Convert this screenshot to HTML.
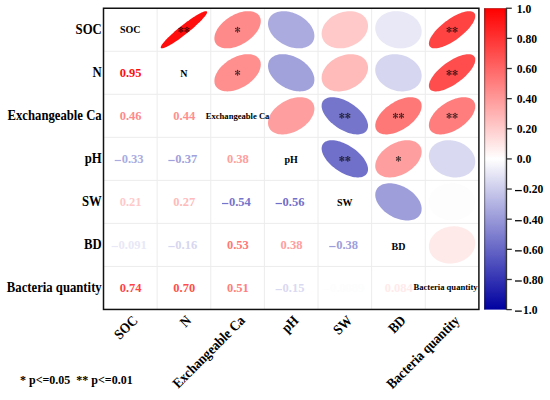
<!DOCTYPE html><html><head><meta charset="utf-8"><style>html,body{margin:0;padding:0;background:#fff;width:550px;height:400px;overflow:hidden}svg{display:block}text{font-family:"Liberation Serif",serif;font-weight:bold}</style></head><body>
<svg width="550" height="400" viewBox="0 0 550 400">
<defs><linearGradient id="cb" x1="0" y1="0" x2="0" y2="1"><stop offset="0" stop-color="#ff0000"/><stop offset="0.5" stop-color="#ffffff"/><stop offset="1" stop-color="rgb(0,0,160)"/></linearGradient></defs>
<g stroke="#ececec" stroke-width="1"><line x1="157.13" y1="8.25" x2="157.13" y2="309.45"/><line x1="103.50" y1="51.28" x2="478.90" y2="51.28"/><line x1="210.76" y1="8.25" x2="210.76" y2="309.45"/><line x1="103.50" y1="94.31" x2="478.90" y2="94.31"/><line x1="264.39" y1="8.25" x2="264.39" y2="309.45"/><line x1="103.50" y1="137.34" x2="478.90" y2="137.34"/><line x1="318.01" y1="8.25" x2="318.01" y2="309.45"/><line x1="103.50" y1="180.36" x2="478.90" y2="180.36"/><line x1="371.64" y1="8.25" x2="371.64" y2="309.45"/><line x1="103.50" y1="223.39" x2="478.90" y2="223.39"/><line x1="425.27" y1="8.25" x2="425.27" y2="309.45"/><line x1="103.50" y1="266.42" x2="478.90" y2="266.42"/></g>
<polygon points="206.85,11.39 206.53,11.23 206.11,11.16 205.58,11.18 204.95,11.29 204.21,11.49 203.37,11.78 202.44,12.16 201.42,12.62 200.32,13.17 199.13,13.80 197.87,14.50 196.54,15.28 195.15,16.13 193.71,17.05 192.22,18.03 190.69,19.06 189.12,20.15 187.53,21.29 185.93,22.46 184.31,23.68 182.69,24.92 181.08,26.18 179.48,27.46 177.90,28.76 176.35,30.06 174.84,31.35 173.38,32.64 171.96,33.92 170.61,35.18 169.32,36.40 168.10,37.60 166.95,38.76 165.89,39.87 164.92,40.94 164.04,41.95 163.26,42.90 162.58,43.79 162.00,44.61 161.53,45.35 161.17,46.03 160.92,46.62 160.78,47.13 160.75,47.55 160.84,47.89 161.04,48.14 161.35,48.30 161.77,48.37 162.30,48.35 162.94,48.24 163.68,48.04 164.51,47.75 165.44,47.37 166.46,46.91 167.57,46.36 168.76,45.73 170.02,45.03 171.34,44.25 172.73,43.40 174.18,42.48 175.67,41.50 177.20,40.46 178.76,39.38 180.35,38.24 181.96,37.06 183.58,35.85 185.20,34.61 186.81,33.35 188.41,32.06 189.98,30.77 191.53,29.47 193.04,28.17 194.51,26.88 195.92,25.61 197.28,24.35 198.57,23.12 199.79,21.93 200.93,20.77 201.99,19.66 202.97,18.59 203.84,17.58 204.63,16.63 205.31,15.74 205.89,14.92 206.36,14.17 206.72,13.50 206.97,12.91 207.11,12.40 207.13,11.98 207.05,11.64" fill="rgb(255,13,13)"/>
<polygon points="257.39,13.86 256.50,13.23 255.52,12.67 254.45,12.20 253.30,11.81 252.07,11.52 250.77,11.31 249.41,11.19 247.99,11.16 246.52,11.22 245.01,11.37 243.45,11.61 241.88,11.94 240.27,12.36 238.66,12.86 237.04,13.44 235.43,14.10 233.82,14.84 232.23,15.65 230.67,16.53 229.14,17.48 227.66,18.49 226.22,19.55 224.84,20.66 223.51,21.81 222.26,23.00 221.08,24.23 219.99,25.48 218.97,26.75 218.05,28.04 217.23,29.34 216.50,30.64 215.87,31.93 215.35,33.22 214.94,34.48 214.64,35.73 214.45,36.94 214.38,38.12 214.42,39.26 214.57,40.36 214.83,41.40 215.20,42.38 215.68,43.31 216.27,44.16 216.96,44.95 217.75,45.66 218.64,46.30 219.62,46.86 220.69,47.33 221.84,47.71 223.07,48.01 224.37,48.22 225.73,48.34 227.15,48.37 228.62,48.31 230.14,48.16 231.69,47.92 233.27,47.59 234.87,47.17 236.48,46.67 238.10,46.09 239.72,45.43 241.32,44.69 242.91,43.87 244.47,42.99 246.00,42.05 247.49,41.04 248.92,39.98 250.31,38.87 251.63,37.72 252.88,36.53 254.06,35.30 255.16,34.05 256.17,32.77 257.09,31.49 257.92,30.19 258.64,28.89 259.27,27.60 259.79,26.31 260.20,25.04 260.50,23.80 260.69,22.58 260.76,21.40 260.73,20.26 260.58,19.17 260.32,18.13 259.94,17.15 259.46,16.22 258.87,15.36 258.18,14.58" fill="rgb(255,138,138)"/>
<polygon points="304.62,18.99 303.27,17.96 301.86,16.99 300.40,16.07 298.89,15.23 297.35,14.45 295.77,13.75 294.17,13.13 292.56,12.59 290.94,12.13 289.33,11.76 287.72,11.47 286.13,11.28 284.56,11.17 283.03,11.16 281.53,11.24 280.08,11.40 278.69,11.66 277.36,12.00 276.10,12.43 274.90,12.95 273.79,13.55 272.77,14.22 271.83,14.97 270.99,15.80 270.24,16.69 269.60,17.64 269.06,18.66 268.63,19.73 268.31,20.85 268.11,22.01 268.01,23.21 268.03,24.44 268.16,25.69 268.40,26.97 268.76,28.26 269.22,29.56 269.79,30.86 270.47,32.15 271.24,33.43 272.12,34.70 273.08,35.94 274.14,37.14 275.27,38.32 276.49,39.45 277.78,40.54 279.13,41.57 280.54,42.54 282.00,43.46 283.51,44.30 285.05,45.08 286.63,45.78 288.23,46.40 289.84,46.94 291.46,47.40 293.07,47.77 294.68,48.05 296.27,48.25 297.84,48.35 299.37,48.37 300.87,48.29 302.32,48.13 303.71,47.87 305.04,47.53 306.30,47.10 307.50,46.58 308.61,45.98 309.63,45.31 310.57,44.56 311.41,43.73 312.16,42.84 312.80,41.88 313.34,40.87 313.77,39.80 314.09,38.68 314.29,37.52 314.39,36.32 314.37,35.09 314.24,33.83 314.00,32.56 313.64,31.27 313.18,29.97 312.61,28.67 311.93,27.38 311.16,26.10 310.28,24.83 309.32,23.59 308.26,22.38 307.13,21.21 305.91,20.08" fill="rgb(171,171,224)"/>
<polygon points="362.87,15.29 361.81,14.51 360.67,13.80 359.44,13.17 358.15,12.63 356.80,12.16 355.38,11.78 353.91,11.49 352.40,11.29 350.86,11.18 349.28,11.16 347.68,11.23 346.07,11.39 344.45,11.64 342.83,11.97 341.22,12.40 339.64,12.91 338.07,13.50 336.54,14.17 335.05,14.91 333.61,15.73 332.22,16.62 330.89,17.57 329.63,18.58 328.45,19.65 327.34,20.76 326.32,21.92 325.39,23.11 324.55,24.34 323.82,25.60 323.18,26.87 322.65,28.16 322.23,29.46 321.92,30.76 321.72,32.05 321.64,33.33 321.66,34.60 321.80,35.84 322.06,37.05 322.42,38.23 322.89,39.37 323.47,40.45 324.15,41.49 324.93,42.47 325.81,43.39 326.79,44.24 327.85,45.02 328.99,45.73 330.21,46.35 331.50,46.90 332.86,47.37 334.28,47.75 335.74,48.04 337.25,48.24 338.80,48.35 340.38,48.37 341.98,48.30 343.59,48.14 345.21,47.89 346.83,47.56 348.43,47.13 350.02,46.62 351.59,46.03 353.12,45.36 354.61,44.61 356.05,43.80 357.44,42.91 358.77,41.96 360.03,40.95 361.21,39.88 362.32,38.77 363.34,37.61 364.27,36.41 365.10,35.19 365.84,33.93 366.47,32.66 367.00,31.37 367.42,30.07 367.73,28.77 367.93,27.48 368.02,26.19 367.99,24.93 367.85,23.69 367.60,22.47 367.24,21.30 366.77,20.16 366.19,19.07 365.51,18.04 364.72,17.06 363.84,16.14" fill="rgb(255,201,201)"/>
<polygon points="414.09,17.22 412.86,16.29 411.56,15.43 410.19,14.63 408.77,13.92 407.29,13.27 405.77,12.71 404.22,12.23 402.64,11.84 401.04,11.54 399.42,11.32 397.81,11.19 396.19,11.15 394.58,11.21 393.00,11.35 391.44,11.59 389.91,11.91 388.43,12.32 387.00,12.82 385.62,13.39 384.30,14.05 383.05,14.78 381.88,15.59 380.79,16.47 379.79,17.41 378.87,18.41 378.05,19.46 377.33,20.57 376.72,21.72 376.21,22.91 375.80,24.13 375.51,25.38 375.33,26.66 375.26,27.94 375.31,29.24 375.47,30.54 375.74,31.84 376.12,33.12 376.61,34.39 377.20,35.64 377.90,36.85 378.70,38.04 379.60,39.18 380.59,40.28 381.66,41.32 382.82,42.31 384.05,43.24 385.36,44.10 386.72,44.89 388.15,45.61 389.62,46.25 391.14,46.82 392.69,47.29 394.27,47.69 395.88,47.99 397.49,48.21 399.11,48.34 400.72,48.37 402.33,48.32 403.92,48.18 405.47,47.94 407.00,47.62 408.48,47.21 409.92,46.71 411.30,46.14 412.61,45.48 413.86,44.75 415.03,43.94 416.12,43.06 417.13,42.12 418.04,41.12 418.86,40.07 419.58,38.96 420.20,37.81 420.71,36.62 421.11,35.39 421.40,34.14 421.58,32.87 421.65,31.58 421.61,30.29 421.45,28.99 421.18,27.69 420.80,26.41 420.31,25.14 419.71,23.89 419.01,22.68 418.21,21.49 417.31,20.35 416.33,19.25 415.25,18.21" fill="rgb(232,232,246)"/>
<polygon points="473.72,12.41 473.08,11.98 472.35,11.64 471.51,11.39 470.58,11.23 469.56,11.16 468.45,11.18 467.26,11.29 466.00,11.49 464.67,11.78 463.28,12.15 461.84,12.62 460.35,13.16 458.82,13.79 457.25,14.50 455.66,15.27 454.05,16.12 452.44,17.04 450.82,18.02 449.21,19.05 447.61,20.14 446.03,21.28 444.48,22.45 442.97,23.66 441.51,24.91 440.09,26.17 438.74,27.45 437.45,28.75 436.23,30.05 435.09,31.34 434.03,32.63 433.05,33.91 432.18,35.16 431.39,36.39 430.71,37.59 430.14,38.75 429.67,39.86 429.31,40.93 429.06,41.94 428.92,42.89 428.90,43.78 428.98,44.60 429.19,45.35 429.50,46.02 429.92,46.61 430.45,47.12 431.09,47.55 431.83,47.89 432.66,48.14 433.59,48.30 434.62,48.37 435.72,48.35 436.91,48.24 438.17,48.04 439.50,47.75 440.89,47.37 442.33,46.91 443.82,46.37 445.36,45.74 446.92,45.03 448.51,44.25 450.12,43.40 451.74,42.49 453.35,41.51 454.97,40.47 456.56,39.39 458.14,38.25 459.69,37.08 461.20,35.86 462.66,34.62 464.08,33.36 465.43,32.08 466.72,30.78 467.94,29.48 469.09,28.19 470.15,26.90 471.12,25.62 472.00,24.37 472.78,23.14 473.46,21.94 474.03,20.78 474.50,19.67 474.86,18.60 475.11,17.59 475.25,16.64 475.28,15.75 475.19,14.93 474.99,14.18 474.67,13.51 474.25,12.92" fill="rgb(255,66,66)"/>
<polygon points="257.25,57.00 256.35,56.35 255.35,55.79 254.27,55.30 253.11,54.90 251.87,54.59 250.56,54.36 249.19,54.23 247.76,54.18 246.28,54.23 244.76,54.37 243.20,54.59 241.62,54.91 240.02,55.31 238.40,55.80 236.78,56.37 235.17,57.02 233.56,57.75 231.98,58.55 230.42,59.42 228.90,60.35 227.42,61.35 225.99,62.40 224.62,63.50 223.31,64.65 222.07,65.84 220.90,67.06 219.82,68.31 218.82,69.58 217.91,70.86 217.10,72.16 216.39,73.46 215.78,74.75 215.28,76.04 214.89,77.31 214.61,78.56 214.44,79.78 214.38,80.97 214.43,82.11 214.60,83.21 214.88,84.26 215.27,85.26 215.77,86.19 216.37,87.06 217.08,87.86 217.89,88.58 218.79,89.23 219.79,89.80 220.87,90.29 222.04,90.69 223.27,91.00 224.58,91.22 225.96,91.36 227.38,91.40 228.86,91.36 230.38,91.22 231.94,90.99 233.52,90.68 235.13,90.27 236.74,89.79 238.36,89.22 239.97,88.57 241.58,87.84 243.16,87.04 244.72,86.17 246.24,85.23 247.72,84.24 249.15,83.19 250.52,82.08 251.83,80.94 253.08,79.75 254.24,78.53 255.33,77.28 256.32,76.01 257.23,74.72 258.04,73.43 258.75,72.13 259.36,70.83 259.86,69.54 260.25,68.27 260.54,67.03 260.71,65.81 260.77,64.62 260.71,63.47 260.54,62.37 260.26,61.32 259.87,60.33 259.37,59.39 258.77,58.53 258.06,57.73" fill="rgb(255,143,143)"/>
<polygon points="304.22,62.35 302.85,61.30 301.42,60.31 299.94,59.37 298.42,58.51 296.87,57.71 295.28,56.99 293.68,56.34 292.07,55.77 290.45,55.29 288.83,54.89 287.23,54.58 285.64,54.36 284.09,54.23 282.56,54.18 281.08,54.23 279.65,54.37 278.28,54.60 276.97,54.92 275.72,55.32 274.56,55.81 273.47,56.38 272.47,57.04 271.56,57.76 270.75,58.57 270.03,59.44 269.42,60.37 268.92,61.37 268.52,62.42 268.24,63.53 268.07,64.68 268.01,65.86 268.06,67.09 268.22,68.34 268.50,69.61 268.89,70.89 269.38,72.19 269.99,73.49 270.69,74.78 271.50,76.07 272.40,77.34 273.40,78.59 274.48,79.81 275.64,80.99 276.87,82.14 278.18,83.24 279.55,84.29 280.98,85.28 282.46,86.21 283.98,87.08 285.53,87.88 287.12,88.60 288.72,89.25 290.33,89.81 291.95,90.30 293.57,90.69 295.17,91.01 296.76,91.23 298.31,91.36 299.84,91.40 301.32,91.35 302.75,91.22 304.12,90.99 305.43,90.67 306.68,90.26 307.84,89.77 308.93,89.20 309.93,88.55 310.84,87.82 311.65,87.02 312.37,86.15 312.98,85.21 313.48,84.21 313.88,83.16 314.16,82.06 314.33,80.91 314.39,79.72 314.34,78.50 314.18,77.25 313.90,75.98 313.51,74.69 313.02,73.40 312.41,72.10 311.71,70.80 310.90,69.52 310.00,68.25 309.00,67.00 307.92,65.78 306.76,64.59 305.53,63.45" fill="rgb(161,161,220)"/>
<polygon points="363.31,57.96 362.29,57.22 361.18,56.54 359.99,55.95 358.73,55.44 357.40,55.01 356.01,54.67 354.57,54.42 353.08,54.26 351.54,54.19 349.98,54.21 348.39,54.32 346.78,54.51 345.17,54.80 343.55,55.18 341.93,55.64 340.34,56.19 338.76,56.81 337.21,57.52 335.70,58.30 334.24,59.15 332.82,60.06 331.47,61.04 330.18,62.07 328.96,63.16 327.82,64.30 326.76,65.47 325.79,66.68 324.91,67.92 324.13,69.19 323.45,70.47 322.88,71.76 322.41,73.06 322.05,74.36 321.80,75.65 321.66,76.93 321.64,78.18 321.73,79.41 321.93,80.61 322.24,81.77 322.67,82.88 323.20,83.95 323.84,84.96 324.58,85.91 325.41,86.80 326.35,87.62 327.37,88.37 328.48,89.04 329.66,89.64 330.92,90.15 332.25,90.57 333.64,90.91 335.09,91.16 336.58,91.33 338.11,91.40 339.68,91.38 341.27,91.27 342.87,91.07 344.49,90.78 346.11,90.41 347.72,89.94 349.32,89.40 350.90,88.77 352.44,88.07 353.95,87.29 355.42,86.44 356.83,85.52 358.19,84.55 359.48,83.51 360.70,82.42 361.84,81.29 362.90,80.11 363.87,78.90 364.74,77.66 365.53,76.40 366.21,75.11 366.78,73.82 367.25,72.52 367.61,71.23 367.86,69.94 367.99,68.66 368.02,67.40 367.93,66.17 367.73,64.98 367.41,63.82 366.99,62.70 366.46,61.64 365.82,60.62 365.08,59.67 364.24,58.78" fill="rgb(255,186,186)"/>
<polygon points="413.49,60.73 412.22,59.77 410.88,58.88 409.49,58.05 408.04,57.29 406.54,56.61 405.00,56.01 403.44,55.49 401.84,55.05 400.24,54.71 398.62,54.44 397.00,54.27 395.39,54.19 393.79,54.20 392.22,54.30 390.68,54.49 389.17,54.77 387.71,55.13 386.30,55.59 384.95,56.12 383.67,56.74 382.46,57.44 381.33,58.21 380.28,59.05 379.32,59.96 378.45,60.93 377.68,61.96 377.01,63.04 376.45,64.17 375.99,65.34 375.64,66.55 375.41,67.79 375.28,69.05 375.27,70.33 375.37,71.62 375.59,72.92 375.91,74.22 376.35,75.51 376.89,76.79 377.54,78.05 378.29,79.28 379.14,80.48 380.08,81.64 381.11,82.76 382.23,83.84 383.43,84.85 384.69,85.81 386.03,86.71 387.43,87.54 388.88,88.29 390.37,88.97 391.91,89.58 393.48,90.10 395.07,90.53 396.68,90.88 398.30,91.14 399.91,91.31 401.53,91.40 403.12,91.39 404.70,91.29 406.24,91.10 407.74,90.82 409.20,90.45 410.61,90.00 411.96,89.46 413.24,88.84 414.45,88.15 415.59,87.38 416.64,86.54 417.60,85.63 418.46,84.66 419.23,83.63 419.90,82.55 420.47,81.42 420.92,80.24 421.27,79.04 421.51,77.80 421.63,76.54 421.64,75.26 421.54,73.96 421.33,72.66 421.00,71.37 420.57,70.08 420.02,68.80 419.37,67.54 418.62,66.31 417.78,65.11 416.83,63.94 415.80,62.82 414.68,61.75" fill="rgb(214,214,240)"/>
<polygon points="473.47,55.64 472.79,55.17 472.01,54.80 471.13,54.51 470.17,54.31 469.11,54.21 467.97,54.19 466.75,54.26 465.46,54.42 464.11,54.68 462.69,55.02 461.23,55.44 459.72,55.96 458.17,56.55 456.60,57.22 455.00,57.97 453.39,58.79 451.77,59.68 450.15,60.64 448.54,61.65 446.95,62.72 445.39,63.83 443.85,64.99 442.36,66.19 440.92,67.42 439.53,68.67 438.20,69.95 436.93,71.24 435.75,72.54 434.64,73.84 433.61,75.13 432.68,76.41 431.84,77.68 431.10,78.92 430.46,80.13 429.93,81.30 429.51,82.44 429.19,83.52 428.99,84.56 428.90,85.54 428.92,86.45 429.05,87.30 429.30,88.08 429.66,88.78 430.13,89.41 430.70,89.95 431.38,90.41 432.16,90.79 433.04,91.07 434.01,91.27 435.06,91.38 436.20,91.40 437.42,91.33 438.71,91.16 440.07,90.91 441.48,90.57 442.94,90.14 444.45,89.63 446.00,89.04 447.58,88.36 449.17,87.61 450.79,86.79 452.40,85.90 454.02,84.95 455.63,83.94 457.22,82.87 458.78,81.75 460.32,80.59 461.81,79.40 463.25,78.17 464.65,76.91 465.98,75.64 467.24,74.35 468.43,73.05 469.53,71.75 470.56,70.46 471.49,69.17 472.33,67.91 473.07,66.67 473.71,65.46 474.24,64.28 474.67,63.15 474.98,62.06 475.18,61.03 475.27,60.05 475.25,59.14 475.12,58.29 474.87,57.51 474.51,56.81 474.04,56.18" fill="rgb(255,77,77)"/>
<polygon points="310.47,100.36 309.52,99.68 308.48,99.07 307.36,98.55 306.16,98.11 304.89,97.75 303.55,97.48 302.15,97.31 300.70,97.22 299.20,97.22 297.66,97.32 296.09,97.50 294.49,97.78 292.89,98.14 291.27,98.59 289.65,99.12 288.04,99.73 286.44,100.42 284.87,101.19 283.33,102.03 281.83,102.93 280.37,103.90 278.97,104.93 277.62,106.01 276.34,107.13 275.14,108.30 274.01,109.51 272.96,110.74 272.01,112.01 271.15,113.29 270.38,114.58 269.72,115.88 269.16,117.17 268.71,118.47 268.37,119.74 268.14,121.00 268.02,122.24 268.02,123.44 268.13,124.61 268.35,125.73 268.68,126.80 269.12,127.83 269.67,128.79 270.32,129.69 271.08,130.52 271.93,131.28 272.88,131.97 273.92,132.57 275.04,133.10 276.24,133.54 277.51,133.89 278.85,134.16 280.25,134.33 281.70,134.42 283.20,134.42 284.74,134.32 286.31,134.14 287.91,133.87 289.51,133.50 291.13,133.06 292.75,132.52 294.36,131.91 295.96,131.22 297.53,130.45 299.07,129.61 300.57,128.71 302.03,127.74 303.43,126.72 304.78,125.64 306.06,124.51 307.26,123.34 308.39,122.14 309.44,120.90 310.39,119.64 311.25,118.36 312.02,117.07 312.68,115.77 313.24,114.47 313.69,113.18 314.03,111.90 314.26,110.64 314.38,109.41 314.38,108.20 314.27,107.04 314.05,105.91 313.72,104.84 313.28,103.82 312.73,102.86 312.08,101.96 311.32,101.12" fill="rgb(255,158,158)"/>
<polygon points="355.95,106.90 354.51,105.78 353.01,104.71 351.48,103.70 349.91,102.74 348.32,101.85 346.71,101.03 345.10,100.27 343.48,99.60 341.86,99.00 340.27,98.49 338.69,98.06 337.15,97.71 335.64,97.46 334.18,97.29 332.76,97.22 331.41,97.23 330.12,97.34 328.91,97.53 327.77,97.82 326.72,98.19 325.75,98.65 324.88,99.19 324.10,99.81 323.42,100.51 322.85,101.29 322.39,102.14 322.03,103.05 321.79,104.02 321.66,105.06 321.64,106.14 321.73,107.27 321.94,108.45 322.26,109.66 322.69,110.90 323.22,112.16 323.87,113.44 324.61,114.74 325.45,116.04 326.39,117.33 327.41,118.62 328.53,119.90 329.72,121.16 330.98,122.39 332.31,123.59 333.70,124.75 335.15,125.86 336.65,126.93 338.18,127.95 339.75,128.90 341.34,129.79 342.94,130.62 344.56,131.37 346.18,132.04 347.79,132.64 349.39,133.16 350.97,133.59 352.51,133.93 354.02,134.18 355.48,134.35 356.89,134.43 358.25,134.41 359.53,134.31 360.75,134.11 361.89,133.83 362.94,133.45 363.91,132.99 364.78,132.45 365.56,131.83 366.23,131.13 366.80,130.35 367.27,129.51 367.62,128.59 367.87,127.62 368.00,126.59 368.02,125.50 367.92,124.37 367.72,123.19 367.40,121.99 366.97,120.75 366.43,119.48 365.79,118.20 365.05,116.91 364.21,115.61 363.27,114.31 362.24,113.02 361.13,111.74 359.94,110.49 358.68,109.26 357.34,108.06" fill="rgb(117,117,204)"/>
<polygon points="418.74,99.54 417.91,98.95 416.98,98.45 415.96,98.02 414.86,97.69 413.67,97.44 412.42,97.28 411.09,97.21 409.70,97.24 408.26,97.35 406.77,97.55 405.24,97.85 403.68,98.23 402.09,98.69 400.48,99.24 398.86,99.87 397.24,100.58 395.63,101.36 394.03,102.21 392.46,103.13 390.91,104.11 389.40,105.15 387.93,106.24 386.51,107.37 385.15,108.55 383.86,109.76 382.64,111.01 381.49,112.27 380.43,113.55 379.46,114.85 378.58,116.15 377.79,117.44 377.11,118.73 376.53,120.01 376.05,121.26 375.69,122.49 375.44,123.69 375.29,124.84 375.27,125.96 375.35,127.02 375.55,128.03 375.86,128.98 376.28,129.87 376.80,130.68 377.44,131.43 378.17,132.10 379.00,132.69 379.93,133.20 380.95,133.62 382.06,133.95 383.24,134.20 384.50,134.36 385.82,134.43 387.21,134.41 388.65,134.29 390.14,134.09 391.67,133.80 393.24,133.42 394.83,132.95 396.43,132.40 398.05,131.77 399.67,131.07 401.28,130.28 402.88,129.43 404.46,128.51 406.01,127.53 407.52,126.49 408.99,125.41 410.40,124.27 411.76,123.09 413.05,121.88 414.27,120.64 415.42,119.37 416.48,118.09 417.46,116.79 418.34,115.50 419.12,114.20 419.81,112.91 420.39,111.63 420.86,110.38 421.23,109.15 421.48,107.96 421.62,106.80 421.65,105.69 421.56,104.62 421.37,103.61 421.06,102.66 420.64,101.78 420.11,100.96 419.48,100.21" fill="rgb(255,120,120)"/>
<polygon points="472.24,99.65 471.39,99.05 470.45,98.53 469.41,98.09 468.29,97.74 467.10,97.48 465.83,97.30 464.49,97.22 463.09,97.23 461.64,97.33 460.14,97.51 458.61,97.79 457.04,98.16 455.45,98.61 453.84,99.14 452.22,99.76 450.60,100.45 448.99,101.22 447.39,102.06 445.82,102.97 444.28,103.94 442.77,104.97 441.32,106.05 439.91,107.18 438.56,108.35 437.28,109.56 436.07,110.80 434.94,112.06 433.89,113.34 432.93,114.63 432.07,115.93 431.30,117.23 430.63,118.52 430.07,119.80 429.61,121.05 429.27,122.29 429.03,123.49 428.91,124.65 428.90,125.77 429.00,126.85 429.22,127.87 429.55,128.83 429.99,129.72 430.53,130.55 431.18,131.31 431.93,131.99 432.78,132.59 433.73,133.12 434.76,133.55 435.88,133.90 437.07,134.17 438.34,134.34 439.68,134.42 441.08,134.42 442.53,134.32 444.03,134.13 445.56,133.85 447.13,133.49 448.72,133.04 450.33,132.50 451.95,131.88 453.57,131.19 455.18,130.42 456.78,129.58 458.35,128.67 459.89,127.70 461.40,126.67 462.86,125.59 464.26,124.46 465.61,123.29 466.89,122.08 468.10,120.85 469.23,119.59 470.28,118.30 471.24,117.01 472.11,115.71 472.87,114.42 473.54,113.12 474.10,111.85 474.56,110.59 474.90,109.36 475.14,108.15 475.26,106.99 475.27,105.87 475.17,104.80 474.95,103.78 474.62,102.82 474.19,101.92 473.64,101.09 472.99,100.33" fill="rgb(255,125,125)"/>
<polygon points="355.71,150.12 354.25,149.00 352.75,147.92 351.21,146.89 349.64,145.93 348.05,145.03 346.44,144.19 344.82,143.43 343.20,142.74 341.59,142.13 340.00,141.60 338.42,141.15 336.89,140.80 335.38,140.52 333.93,140.34 332.53,140.25 331.19,140.25 329.91,140.34 328.71,140.52 327.58,140.79 326.54,141.15 325.59,141.59 324.74,142.12 323.98,142.73 323.32,143.42 322.77,144.18 322.32,145.01 321.98,145.92 321.76,146.88 321.65,147.90 321.65,148.98 321.76,150.11 321.99,151.27 322.33,152.48 322.77,153.71 323.33,154.97 323.99,156.25 324.75,157.54 325.61,158.84 326.56,160.14 327.60,161.43 328.72,162.71 329.93,163.97 331.20,165.21 332.55,166.41 333.95,167.58 335.40,168.70 336.91,169.78 338.45,170.81 340.02,171.77 341.61,172.67 343.22,173.51 344.84,174.27 346.46,174.96 348.07,175.57 349.66,176.10 351.23,176.55 352.77,176.90 354.27,177.18 355.73,177.36 357.13,177.45 358.47,177.45 359.75,177.36 360.95,177.18 362.07,176.91 363.11,176.55 364.06,176.11 364.92,175.58 365.68,174.97 366.34,174.28 366.89,173.52 367.34,172.69 367.67,171.78 367.90,170.82 368.01,169.80 368.01,168.72 367.89,167.59 367.67,166.43 367.33,165.22 366.88,163.99 366.33,162.73 365.67,161.45 364.91,160.16 364.05,158.86 363.10,157.56 362.06,156.27 360.93,154.99 359.73,153.73 358.45,152.49 357.11,151.29" fill="rgb(112,112,202)"/>
<polygon points="417.72,143.39 416.78,142.71 415.74,142.10 414.62,141.58 413.42,141.13 412.15,140.78 410.81,140.51 409.41,140.34 407.95,140.25 406.45,140.25 404.92,140.35 403.35,140.53 401.75,140.81 400.14,141.17 398.52,141.62 396.91,142.15 395.30,142.76 393.70,143.45 392.13,144.22 390.59,145.06 389.08,145.96 387.63,146.93 386.22,147.96 384.88,149.03 383.60,150.16 382.39,151.33 381.27,152.54 380.22,153.77 379.27,155.03 378.40,156.31 377.64,157.61 376.98,158.90 376.42,160.20 375.97,161.49 375.63,162.77 375.40,164.03 375.28,165.27 375.27,166.47 375.38,167.63 375.60,168.76 375.94,169.83 376.38,170.85 376.93,171.82 377.58,172.72 378.34,173.55 379.19,174.31 380.14,174.99 381.18,175.60 382.30,176.12 383.50,176.57 384.77,176.92 386.11,177.19 387.51,177.36 388.96,177.45 390.46,177.45 392.00,177.35 393.57,177.17 395.16,176.89 396.77,176.53 398.39,176.08 400.01,175.55 401.62,174.94 403.21,174.25 404.79,173.48 406.33,172.64 407.83,171.74 409.29,170.77 410.69,169.74 412.04,168.67 413.31,167.54 414.52,166.37 415.65,165.16 416.69,163.93 417.65,162.67 418.51,161.39 419.27,160.09 419.94,158.80 420.50,157.50 420.95,156.21 421.29,154.93 421.52,153.67 421.63,152.43 421.64,151.23 421.53,150.07 421.31,148.94 420.98,147.87 420.54,146.85 419.99,145.88 419.33,144.98 418.58,144.15" fill="rgb(255,158,158)"/>
<polygon points="467.21,146.72 465.94,145.76 464.61,144.87 463.22,144.05 461.77,143.30 460.28,142.62 458.75,142.03 457.18,141.51 455.59,141.08 453.98,140.74 452.36,140.49 450.75,140.32 449.13,140.25 447.54,140.26 445.96,140.37 444.41,140.56 442.91,140.85 441.44,141.22 440.03,141.68 438.68,142.22 437.39,142.85 436.17,143.55 435.04,144.32 433.98,145.17 433.01,146.08 432.14,147.06 431.36,148.09 430.69,149.18 430.11,150.31 429.65,151.48 429.29,152.70 429.05,153.94 428.92,155.20 428.90,156.48 428.99,157.77 429.20,159.07 429.51,160.37 429.94,161.66 430.48,162.94 431.12,164.19 431.86,165.42 432.70,166.62 433.64,167.78 434.66,168.90 435.77,169.97 436.96,170.98 438.23,171.94 439.56,172.83 440.95,173.65 442.40,174.40 443.89,175.08 445.43,175.67 446.99,176.19 448.58,176.62 450.19,176.96 451.81,177.21 453.43,177.38 455.04,177.45 456.64,177.44 458.21,177.33 459.76,177.14 461.27,176.85 462.73,176.48 464.14,176.02 465.49,175.48 466.78,174.85 468.00,174.15 469.14,173.38 470.19,172.53 471.16,171.62 472.03,170.64 472.81,169.61 473.49,168.52 474.06,167.39 474.52,166.22 474.88,165.00 475.12,163.76 475.25,162.50 475.27,161.22 475.18,159.93 474.97,158.63 474.66,157.33 474.23,156.04 473.69,154.76 473.05,153.51 472.31,152.28 471.47,151.08 470.53,149.92 469.51,148.80 468.40,147.73" fill="rgb(217,217,241)"/>
<polygon points="411.37,191.52 410.00,190.46 408.56,189.47 407.08,188.53 405.56,187.66 404.00,186.85 402.42,186.13 400.81,185.47 399.20,184.90 397.58,184.41 395.97,184.00 394.36,183.69 392.78,183.46 391.23,183.32 389.71,183.27 388.23,183.31 386.80,183.44 385.43,183.66 384.12,183.97 382.89,184.37 381.73,184.86 380.65,185.42 379.65,186.07 378.75,186.79 377.95,187.59 377.24,188.45 376.64,189.39 376.14,190.38 375.76,191.43 375.48,192.53 375.31,193.67 375.26,194.86 375.32,196.08 375.50,197.32 375.78,198.59 376.18,199.88 376.68,201.17 377.30,202.47 378.01,203.77 378.82,205.06 379.73,206.33 380.73,207.58 381.82,208.80 382.99,209.99 384.23,211.14 385.54,212.24 386.92,213.29 388.35,214.29 389.83,215.23 391.35,216.10 392.91,216.90 394.50,217.63 396.10,218.28 397.72,218.86 399.33,219.35 400.95,219.75 402.55,220.07 404.13,220.30 405.69,220.44 407.21,220.49 408.69,220.45 410.11,220.31 411.48,220.09 412.79,219.78 414.03,219.38 415.19,218.90 416.27,218.34 417.26,217.69 418.16,216.97 418.97,216.17 419.67,215.30 420.28,214.37 420.77,213.38 421.16,212.33 421.44,211.23 421.60,210.09 421.65,208.90 421.59,207.68 421.42,206.43 421.13,205.16 420.73,203.88 420.23,202.58 419.62,201.28 418.90,199.99 418.09,198.70 417.18,197.43 416.18,196.18 415.09,194.96 413.93,193.77 412.68,192.62" fill="rgb(158,158,219)"/>
<polygon points="468.41,188.78 467.22,187.89 465.96,187.07 464.63,186.32 463.24,185.64 461.79,185.05 460.30,184.53 458.77,184.11 457.20,183.76 455.61,183.51 454.00,183.35 452.39,183.27 450.77,183.29 449.16,183.40 447.56,183.60 445.98,183.88 444.44,184.26 442.93,184.72 441.46,185.26 440.05,185.88 438.70,186.59 437.41,187.36 436.19,188.21 435.05,189.13 434.00,190.10 433.03,191.14 432.15,192.22 431.37,193.36 430.70,194.53 430.12,195.74 429.66,196.98 429.30,198.25 429.05,199.53 428.92,200.82 428.90,202.12 428.99,203.42 429.19,204.71 429.51,205.98 429.94,207.24 430.47,208.47 431.11,209.67 431.85,210.83 432.69,211.94 433.62,213.01 434.65,214.03 435.76,214.98 436.95,215.87 438.21,216.69 439.54,217.44 440.93,218.11 442.38,218.71 443.87,219.22 445.40,219.65 446.97,219.99 448.56,220.25 450.17,220.41 451.78,220.48 453.40,220.47 455.01,220.36 456.61,220.16 458.19,219.88 459.73,219.50 461.24,219.04 462.71,218.50 464.12,217.87 465.47,217.17 466.76,216.39 467.98,215.55 469.12,214.63 470.18,213.65 471.14,212.62 472.02,211.53 472.80,210.40 473.48,209.23 474.05,208.02 474.52,206.78 474.87,205.51 475.12,204.23 475.25,202.94 475.27,201.64 475.18,200.34 474.98,199.05 474.66,197.77 474.24,196.52 473.70,195.29 473.06,194.09 472.32,192.93 471.48,191.81 470.55,190.75 469.52,189.73" fill="rgb(253,253,254)"/>
<polygon points="469.16,231.21 468.02,230.36 466.81,229.59 465.52,228.89 464.17,228.27 462.76,227.73 461.30,227.27 459.79,226.90 458.25,226.61 456.67,226.42 455.08,226.32 453.47,226.30 451.85,226.38 450.23,226.55 448.62,226.80 447.03,227.15 445.46,227.58 443.93,228.10 442.43,228.70 440.99,229.37 439.59,230.13 438.26,230.95 436.99,231.84 435.80,232.80 434.69,233.81 433.66,234.88 432.72,236.00 431.88,237.16 431.14,238.36 430.49,239.59 429.95,240.85 429.52,242.13 429.20,243.42 428.99,244.72 428.90,246.01 428.92,247.31 429.04,248.59 429.29,249.85 429.64,251.09 430.10,252.30 430.67,253.47 431.34,254.61 432.12,255.69 432.99,256.72 433.96,257.70 435.01,258.61 436.15,259.45 437.36,260.23 438.65,260.93 440.00,261.55 441.41,262.09 442.87,262.55 444.38,262.92 445.92,263.20 447.50,263.39 449.09,263.50 450.71,263.51 452.32,263.43 453.94,263.27 455.55,263.01 457.14,262.66 458.71,262.23 460.24,261.72 461.74,261.12 463.19,260.44 464.58,259.69 465.91,258.86 467.18,257.97 468.37,257.02 469.48,256.00 470.51,254.93 471.45,253.81 472.29,252.65 473.04,251.45 473.68,250.22 474.22,248.96 474.65,247.69 474.97,246.40 475.18,245.10 475.27,243.80 475.26,242.51 475.13,241.23 474.88,239.96 474.53,238.72 474.07,237.51 473.50,236.34 472.83,235.21 472.05,234.12 471.18,233.09 470.21,232.12" fill="rgb(255,234,234)"/>
<text transform="translate(130.31 33.16) scale(1 1.05)" font-size="10" text-anchor="middle" fill="#000">SOC</text>
<g fill="#000" opacity="0.72"><path d="M180.94 27.56V31.96M179.10 28.57L182.79 30.96M179.10 30.96L182.79 28.57" stroke="#000" stroke-width="0.8" fill="none"/><circle cx="180.94" cy="27.56" r="0.75"/><circle cx="180.94" cy="31.96" r="0.75"/><circle cx="179.10" cy="28.57" r="0.75"/><circle cx="182.79" cy="30.96" r="0.75"/><circle cx="179.10" cy="30.96" r="0.75"/><circle cx="182.79" cy="28.57" r="0.75"/></g>
<g fill="#000" opacity="0.72"><path d="M186.94 27.56V31.96M185.10 28.57L188.79 30.96M185.10 30.96L188.79 28.57" stroke="#000" stroke-width="0.8" fill="none"/><circle cx="186.94" cy="27.56" r="0.75"/><circle cx="186.94" cy="31.96" r="0.75"/><circle cx="185.10" cy="28.57" r="0.75"/><circle cx="188.79" cy="30.96" r="0.75"/><circle cx="185.10" cy="30.96" r="0.75"/><circle cx="188.79" cy="28.57" r="0.75"/></g>
<g fill="#000" opacity="0.72"><path d="M237.57 27.56V31.96M235.73 28.57L239.42 30.96M235.73 30.96L239.42 28.57" stroke="#000" stroke-width="0.8" fill="none"/><circle cx="237.57" cy="27.56" r="0.75"/><circle cx="237.57" cy="31.96" r="0.75"/><circle cx="235.73" cy="28.57" r="0.75"/><circle cx="239.42" cy="30.96" r="0.75"/><circle cx="235.73" cy="30.96" r="0.75"/><circle cx="239.42" cy="28.57" r="0.75"/></g>
<g fill="#000" opacity="0.72"><path d="M449.09 27.56V31.96M447.24 28.57L450.93 30.96M447.24 30.96L450.93 28.57" stroke="#000" stroke-width="0.8" fill="none"/><circle cx="449.09" cy="27.56" r="0.75"/><circle cx="449.09" cy="31.96" r="0.75"/><circle cx="447.24" cy="28.57" r="0.75"/><circle cx="450.93" cy="30.96" r="0.75"/><circle cx="447.24" cy="30.96" r="0.75"/><circle cx="450.93" cy="28.57" r="0.75"/></g>
<g fill="#000" opacity="0.72"><path d="M455.09 27.56V31.96M453.24 28.57L456.93 30.96M453.24 30.96L456.93 28.57" stroke="#000" stroke-width="0.8" fill="none"/><circle cx="455.09" cy="27.56" r="0.75"/><circle cx="455.09" cy="31.96" r="0.75"/><circle cx="453.24" cy="28.57" r="0.75"/><circle cx="456.93" cy="30.96" r="0.75"/><circle cx="453.24" cy="30.96" r="0.75"/><circle cx="456.93" cy="28.57" r="0.75"/></g>
<text transform="translate(130.61 77.09) scale(1 1.06)" font-size="12.5" text-anchor="middle" fill="rgb(255,13,13)">0.95</text>
<text transform="translate(183.94 76.69) scale(1 1.05)" font-size="10" text-anchor="middle" fill="#000">N</text>
<g fill="#000" opacity="0.72"><path d="M237.57 70.59V74.99M235.73 71.59L239.42 73.99M235.73 73.99L239.42 71.59" stroke="#000" stroke-width="0.8" fill="none"/><circle cx="237.57" cy="70.59" r="0.75"/><circle cx="237.57" cy="74.99" r="0.75"/><circle cx="235.73" cy="71.59" r="0.75"/><circle cx="239.42" cy="73.99" r="0.75"/><circle cx="235.73" cy="73.99" r="0.75"/><circle cx="239.42" cy="71.59" r="0.75"/></g>
<g fill="#000" opacity="0.72"><path d="M449.09 70.59V74.99M447.24 71.59L450.93 73.99M447.24 73.99L450.93 71.59" stroke="#000" stroke-width="0.8" fill="none"/><circle cx="449.09" cy="70.59" r="0.75"/><circle cx="449.09" cy="74.99" r="0.75"/><circle cx="447.24" cy="71.59" r="0.75"/><circle cx="450.93" cy="73.99" r="0.75"/><circle cx="447.24" cy="73.99" r="0.75"/><circle cx="450.93" cy="71.59" r="0.75"/></g>
<g fill="#000" opacity="0.72"><path d="M455.09 70.59V74.99M453.24 71.59L456.93 73.99M453.24 73.99L456.93 71.59" stroke="#000" stroke-width="0.8" fill="none"/><circle cx="455.09" cy="70.59" r="0.75"/><circle cx="455.09" cy="74.99" r="0.75"/><circle cx="453.24" cy="71.59" r="0.75"/><circle cx="456.93" cy="73.99" r="0.75"/><circle cx="453.24" cy="73.99" r="0.75"/><circle cx="456.93" cy="71.59" r="0.75"/></g>
<text transform="translate(130.61 120.12) scale(1 1.06)" font-size="12.5" text-anchor="middle" fill="rgb(255,138,138)">0.46</text>
<text transform="translate(184.24 120.12) scale(1 1.06)" font-size="12.5" text-anchor="middle" fill="rgb(255,143,143)">0.44</text>
<text transform="translate(237.57 118.95) scale(1 1.05)" font-size="8.6" text-anchor="middle" fill="#000">Exchangeable Ca</text>
<g fill="#000" opacity="0.72"><path d="M341.83 113.62V118.02M339.98 114.62L343.67 117.02M339.98 117.02L343.67 114.62" stroke="#000" stroke-width="0.8" fill="none"/><circle cx="341.83" cy="113.62" r="0.75"/><circle cx="341.83" cy="118.02" r="0.75"/><circle cx="339.98" cy="114.62" r="0.75"/><circle cx="343.67" cy="117.02" r="0.75"/><circle cx="339.98" cy="117.02" r="0.75"/><circle cx="343.67" cy="114.62" r="0.75"/></g>
<g fill="#000" opacity="0.72"><path d="M347.83 113.62V118.02M345.98 114.62L349.67 117.02M345.98 117.02L349.67 114.62" stroke="#000" stroke-width="0.8" fill="none"/><circle cx="347.83" cy="113.62" r="0.75"/><circle cx="347.83" cy="118.02" r="0.75"/><circle cx="345.98" cy="114.62" r="0.75"/><circle cx="349.67" cy="117.02" r="0.75"/><circle cx="345.98" cy="117.02" r="0.75"/><circle cx="349.67" cy="114.62" r="0.75"/></g>
<g fill="#000" opacity="0.72"><path d="M395.46 113.62V118.02M393.61 114.62L397.30 117.02M393.61 117.02L397.30 114.62" stroke="#000" stroke-width="0.8" fill="none"/><circle cx="395.46" cy="113.62" r="0.75"/><circle cx="395.46" cy="118.02" r="0.75"/><circle cx="393.61" cy="114.62" r="0.75"/><circle cx="397.30" cy="117.02" r="0.75"/><circle cx="393.61" cy="117.02" r="0.75"/><circle cx="397.30" cy="114.62" r="0.75"/></g>
<g fill="#000" opacity="0.72"><path d="M401.46 113.62V118.02M399.61 114.62L403.30 117.02M399.61 117.02L403.30 114.62" stroke="#000" stroke-width="0.8" fill="none"/><circle cx="401.46" cy="113.62" r="0.75"/><circle cx="401.46" cy="118.02" r="0.75"/><circle cx="399.61" cy="114.62" r="0.75"/><circle cx="403.30" cy="117.02" r="0.75"/><circle cx="399.61" cy="117.02" r="0.75"/><circle cx="403.30" cy="114.62" r="0.75"/></g>
<g fill="#000" opacity="0.72"><path d="M449.09 113.62V118.02M447.24 114.62L450.93 117.02M447.24 117.02L450.93 114.62" stroke="#000" stroke-width="0.8" fill="none"/><circle cx="449.09" cy="113.62" r="0.75"/><circle cx="449.09" cy="118.02" r="0.75"/><circle cx="447.24" cy="114.62" r="0.75"/><circle cx="450.93" cy="117.02" r="0.75"/><circle cx="447.24" cy="117.02" r="0.75"/><circle cx="450.93" cy="114.62" r="0.75"/></g>
<g fill="#000" opacity="0.72"><path d="M455.09 113.62V118.02M453.24 114.62L456.93 117.02M453.24 117.02L456.93 114.62" stroke="#000" stroke-width="0.8" fill="none"/><circle cx="455.09" cy="113.62" r="0.75"/><circle cx="455.09" cy="118.02" r="0.75"/><circle cx="453.24" cy="114.62" r="0.75"/><circle cx="456.93" cy="117.02" r="0.75"/><circle cx="453.24" cy="117.02" r="0.75"/><circle cx="456.93" cy="114.62" r="0.75"/></g>
<text transform="translate(132.66 163.15) scale(1 1.06)" font-size="12.5" text-anchor="middle" fill="rgb(171,171,224)">0.33</text>
<rect x="114.73" y="159.90" width="6.4" height="1.2" fill="rgb(171,171,224)"/>
<text transform="translate(186.29 163.15) scale(1 1.06)" font-size="12.5" text-anchor="middle" fill="rgb(161,161,220)">0.37</text>
<rect x="168.36" y="159.90" width="6.4" height="1.2" fill="rgb(161,161,220)"/>
<text transform="translate(237.87 163.15) scale(1 1.06)" font-size="12.5" text-anchor="middle" fill="rgb(255,158,158)">0.38</text>
<text transform="translate(291.20 162.55) scale(1 1.05)" font-size="10" text-anchor="middle" fill="#000">pH</text>
<g fill="#000" opacity="0.72"><path d="M341.83 156.65V161.05M339.98 157.65L343.67 160.05M339.98 160.05L343.67 157.65" stroke="#000" stroke-width="0.8" fill="none"/><circle cx="341.83" cy="156.65" r="0.75"/><circle cx="341.83" cy="161.05" r="0.75"/><circle cx="339.98" cy="157.65" r="0.75"/><circle cx="343.67" cy="160.05" r="0.75"/><circle cx="339.98" cy="160.05" r="0.75"/><circle cx="343.67" cy="157.65" r="0.75"/></g>
<g fill="#000" opacity="0.72"><path d="M347.83 156.65V161.05M345.98 157.65L349.67 160.05M345.98 160.05L349.67 157.65" stroke="#000" stroke-width="0.8" fill="none"/><circle cx="347.83" cy="156.65" r="0.75"/><circle cx="347.83" cy="161.05" r="0.75"/><circle cx="345.98" cy="157.65" r="0.75"/><circle cx="349.67" cy="160.05" r="0.75"/><circle cx="345.98" cy="160.05" r="0.75"/><circle cx="349.67" cy="157.65" r="0.75"/></g>
<g fill="#000" opacity="0.72"><path d="M398.46 156.65V161.05M396.61 157.65L400.30 160.05M396.61 160.05L400.30 157.65" stroke="#000" stroke-width="0.8" fill="none"/><circle cx="398.46" cy="156.65" r="0.75"/><circle cx="398.46" cy="161.05" r="0.75"/><circle cx="396.61" cy="157.65" r="0.75"/><circle cx="400.30" cy="160.05" r="0.75"/><circle cx="396.61" cy="160.05" r="0.75"/><circle cx="400.30" cy="157.65" r="0.75"/></g>
<text transform="translate(130.61 206.18) scale(1 1.06)" font-size="12.5" text-anchor="middle" fill="rgb(255,201,201)">0.21</text>
<text transform="translate(184.24 206.18) scale(1 1.06)" font-size="12.5" text-anchor="middle" fill="rgb(255,186,186)">0.27</text>
<text transform="translate(239.92 206.18) scale(1 1.06)" font-size="12.5" text-anchor="middle" fill="rgb(117,117,204)">0.54</text>
<rect x="221.98" y="202.93" width="6.4" height="1.2" fill="rgb(117,117,204)"/>
<text transform="translate(293.55 206.18) scale(1 1.06)" font-size="12.5" text-anchor="middle" fill="rgb(112,112,202)">0.56</text>
<rect x="275.61" y="202.93" width="6.4" height="1.2" fill="rgb(112,112,202)"/>
<text transform="translate(344.83 205.58) scale(1 1.05)" font-size="10" text-anchor="middle" fill="#000">SW</text>
<text transform="translate(132.66 249.21) scale(1 1.06)" font-size="12.5" text-anchor="middle" fill="rgb(232,232,246)">0.091</text>
<rect x="111.60" y="245.96" width="6.4" height="1.2" fill="rgb(232,232,246)"/>
<text transform="translate(186.29 249.21) scale(1 1.06)" font-size="12.5" text-anchor="middle" fill="rgb(214,214,240)">0.16</text>
<rect x="168.36" y="245.96" width="6.4" height="1.2" fill="rgb(214,214,240)"/>
<text transform="translate(237.87 249.21) scale(1 1.06)" font-size="12.5" text-anchor="middle" fill="rgb(255,120,120)">0.53</text>
<text transform="translate(291.50 249.21) scale(1 1.06)" font-size="12.5" text-anchor="middle" fill="rgb(255,158,158)">0.38</text>
<text transform="translate(347.18 249.21) scale(1 1.06)" font-size="12.5" text-anchor="middle" fill="rgb(158,158,219)">0.38</text>
<rect x="329.24" y="245.96" width="6.4" height="1.2" fill="rgb(158,158,219)"/>
<text transform="translate(398.46 249.61) scale(1 1.05)" font-size="10" text-anchor="middle" fill="#000">BD</text>
<text transform="translate(130.61 292.24) scale(1 1.06)" font-size="12.5" text-anchor="middle" fill="rgb(255,66,66)">0.74</text>
<text transform="translate(184.24 292.24) scale(1 1.06)" font-size="12.5" text-anchor="middle" fill="rgb(255,77,77)">0.70</text>
<text transform="translate(237.87 292.24) scale(1 1.06)" font-size="12.5" text-anchor="middle" fill="rgb(255,125,125)">0.51</text>
<text transform="translate(293.55 292.24) scale(1 1.06)" font-size="12.5" text-anchor="middle" fill="rgb(217,217,241)">0.15</text>
<rect x="275.61" y="288.99" width="6.4" height="1.2" fill="rgb(217,217,241)"/>
<text transform="translate(347.18 292.24) scale(1 1.06)" font-size="12.5" text-anchor="middle" fill="rgb(253,253,254)">0.0089</text>
<rect x="322.99" y="288.99" width="6.4" height="1.2" fill="rgb(253,253,254)"/>
<text transform="translate(398.76 292.24) scale(1 1.06)" font-size="12.5" text-anchor="middle" fill="rgb(255,234,234)">0.084</text>
<text transform="translate(477.6 289.56) scale(1 1.05)" font-size="8.6" text-anchor="end" fill="#000">Bacteria quantity</text>
<rect x="103.50" y="8.25" width="375.40" height="301.20" fill="none" stroke="#111" stroke-width="1.5"/>
<text transform="translate(101.7 33.96) scale(1 1.14)" font-size="12.7" text-anchor="end" fill="#000">SOC</text>
<text transform="translate(101.7 76.99) scale(1 1.14)" font-size="12.7" text-anchor="end" fill="#000">N</text>
<text transform="translate(101.7 120.02) scale(1 1.14)" font-size="12.7" text-anchor="end" fill="#000">Exchangeable Ca</text>
<text transform="translate(101.7 163.05) scale(1 1.14)" font-size="12.7" text-anchor="end" fill="#000">pH</text>
<text transform="translate(101.7 206.08) scale(1 1.14)" font-size="12.7" text-anchor="end" fill="#000">SW</text>
<text transform="translate(101.7 249.11) scale(1 1.14)" font-size="12.7" text-anchor="end" fill="#000">BD</text>
<text transform="translate(101.7 292.14) scale(1 1.14)" font-size="12.7" text-anchor="end" fill="#000">Bacteria quantity</text>
<text transform="translate(132.31,315.20) rotate(-45) scale(1 1.1)" x="0" y="8" font-size="12.9" text-anchor="end" fill="#000">SOC</text>
<text transform="translate(185.94,315.20) rotate(-45) scale(1 1.1)" x="0" y="8" font-size="12.9" text-anchor="end" fill="#000">N</text>
<text transform="translate(239.57,315.20) rotate(-45) scale(1 1.1)" x="0" y="8" font-size="12.9" text-anchor="end" fill="#000">Exchangeable Ca</text>
<text transform="translate(293.20,315.20) rotate(-45) scale(1 1.1)" x="0" y="8" font-size="12.9" text-anchor="end" fill="#000">pH</text>
<text transform="translate(346.83,315.20) rotate(-45) scale(1 1.1)" x="0" y="8" font-size="12.9" text-anchor="end" fill="#000">SW</text>
<text transform="translate(400.46,315.20) rotate(-45) scale(1 1.1)" x="0" y="8" font-size="12.9" text-anchor="end" fill="#000">BD</text>
<text transform="translate(454.09,315.20) rotate(-45) scale(1 1.1)" x="0" y="8" font-size="12.9" text-anchor="end" fill="#000">Bacteria quantity</text>
<rect x="484.2" y="8.25" width="22.30" height="301.35" fill="url(#cb)"/>
<line x1="484.7" y1="8.25" x2="484.7" y2="309.6" stroke="rgba(0,0,0,0.45)" stroke-width="1"/>
<line x1="505.2" y1="8.25" x2="505.2" y2="309.6" stroke="rgba(0,0,0,0.12)" stroke-width="1.2"/>
<line x1="484.2" y1="8.65" x2="506.5" y2="8.65" stroke="rgba(0,0,0,0.3)" stroke-width="0.8"/>
<line x1="506.5" y1="7.75" x2="506.5" y2="310.1" stroke="#333" stroke-width="1.3"/>
<line x1="506.5" y1="8.25" x2="511.80" y2="8.25" stroke="#333" stroke-width="1.3"/>
<text transform="translate(516.8 12.55) scale(1 1.07)" font-size="11.6" fill="#000">1.0</text>
<line x1="506.5" y1="38.39" x2="511.80" y2="38.39" stroke="#333" stroke-width="1.3"/>
<text transform="translate(516.8 42.69) scale(1 1.07)" font-size="11.6" fill="#000">0.80</text>
<line x1="506.5" y1="68.52" x2="511.80" y2="68.52" stroke="#333" stroke-width="1.3"/>
<text transform="translate(516.8 72.82) scale(1 1.07)" font-size="11.6" fill="#000">0.60</text>
<line x1="506.5" y1="98.66" x2="511.80" y2="98.66" stroke="#333" stroke-width="1.3"/>
<text transform="translate(516.8 102.95) scale(1 1.07)" font-size="11.6" fill="#000">0.40</text>
<line x1="506.5" y1="128.79" x2="511.80" y2="128.79" stroke="#333" stroke-width="1.3"/>
<text transform="translate(516.8 133.09) scale(1 1.07)" font-size="11.6" fill="#000">0.20</text>
<line x1="506.5" y1="158.93" x2="511.80" y2="158.93" stroke="#333" stroke-width="1.3"/>
<text transform="translate(516.8 163.23) scale(1 1.07)" font-size="11.6" fill="#000">0.0</text>
<line x1="506.5" y1="189.06" x2="511.80" y2="189.06" stroke="#333" stroke-width="1.3"/>
<rect x="515" y="189.96" width="6.8" height="1.25" fill="#000"/>
<text transform="translate(523.0 193.36) scale(1 1.07)" font-size="11.6" fill="#000">0.20</text>
<line x1="506.5" y1="219.20" x2="511.80" y2="219.20" stroke="#333" stroke-width="1.3"/>
<rect x="515" y="220.10" width="6.8" height="1.25" fill="#000"/>
<text transform="translate(523.0 223.50) scale(1 1.07)" font-size="11.6" fill="#000">0.40</text>
<line x1="506.5" y1="249.33" x2="511.80" y2="249.33" stroke="#333" stroke-width="1.3"/>
<rect x="515" y="250.23" width="6.8" height="1.25" fill="#000"/>
<text transform="translate(523.0 253.63) scale(1 1.07)" font-size="11.6" fill="#000">0.60</text>
<line x1="506.5" y1="279.47" x2="511.80" y2="279.47" stroke="#333" stroke-width="1.3"/>
<rect x="515" y="280.37" width="6.8" height="1.25" fill="#000"/>
<text transform="translate(523.0 283.77) scale(1 1.07)" font-size="11.6" fill="#000">0.80</text>
<line x1="506.5" y1="309.60" x2="511.80" y2="309.60" stroke="#333" stroke-width="1.3"/>
<rect x="515" y="310.50" width="6.8" height="1.25" fill="#000"/>
<text transform="translate(523.0 313.90) scale(1 1.07)" font-size="11.6" fill="#000">1.0</text>
<text transform="translate(20 384) scale(1 1.05)" font-size="12" fill="#000" xml:space="preserve">* p&lt;=0.05  ** p&lt;=0.01</text>
</svg></body></html>
